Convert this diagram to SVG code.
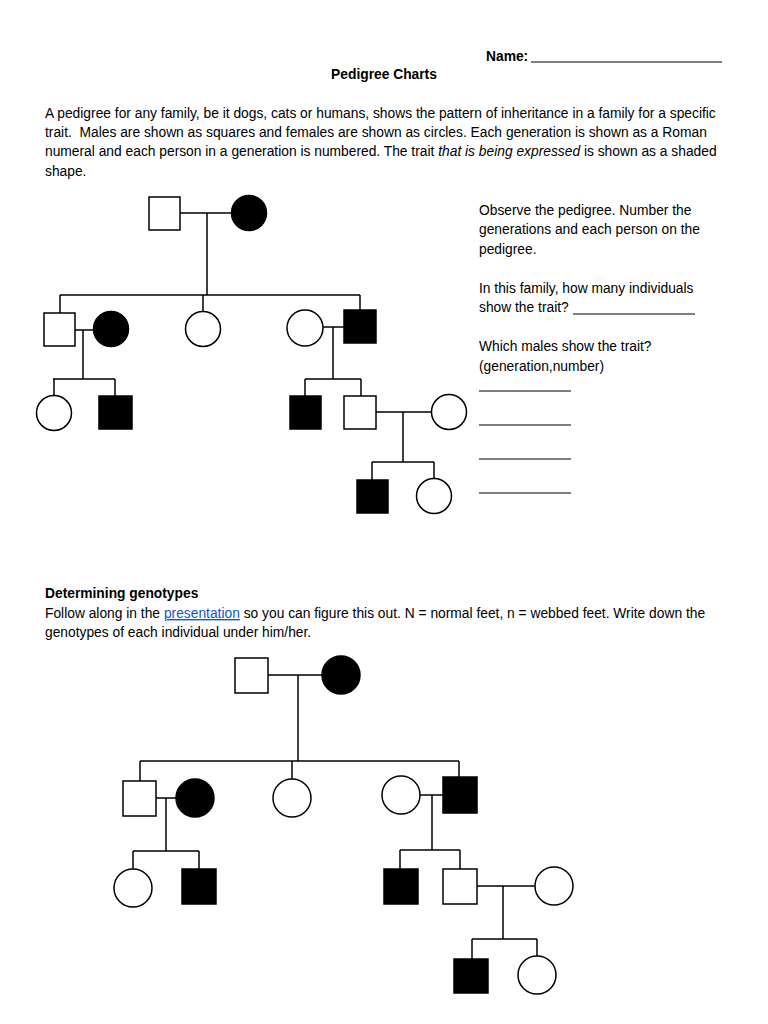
<svg xmlns="http://www.w3.org/2000/svg" width="768" height="1024" viewBox="0 0 768 1024">
<style>
text{font-family:"Liberation Sans",Arial,sans-serif;font-size:13.8px;fill:#000}
.b{font-weight:bold}
.o{fill:#fff;stroke:#000;stroke-width:1.5}
.f{fill:#000;stroke:#000;stroke-width:1.5}
.c line{stroke:#000;stroke-width:1.5}
.u{stroke:#000;stroke-width:1}
</style>
<rect width="768" height="1024" fill="#fff"/>
<g id="texts">
<text x="486" y="61" class="b">Name: </text>
<line class="u" x1="531" y1="62" x2="722" y2="62"/>
<text x="384" y="79" class="b" text-anchor="middle">Pedigree Charts</text>
<text x="45" y="118">A pedigree for any family, be it dogs, cats or humans, shows the pattern of inheritance in a family for a specific</text>
<text x="45" y="137">trait.&#160; Males are shown as squares and females are shown as circles. Each generation is shown as a Roman</text>
<text x="45" y="156">numeral and each person in a generation is numbered. The trait <tspan font-style="italic">that is being expressed</tspan> is shown as a shaded</text>
<text x="45" y="176">shape.</text>
<text x="479" y="215">Observe the pedigree. Number the</text>
<text x="479" y="234">generations and each person on the</text>
<text x="479" y="254">pedigree.</text>
<text x="479" y="293">In this family, how many individuals</text>
<text x="479" y="312">show the trait? </text>
<line class="u" x1="573" y1="314" x2="695" y2="314"/>
<text x="479" y="351">Which males show the trait?</text>
<text x="479" y="371">(generation,number)</text>
<line class="u" x1="479" y1="391" x2="571" y2="391"/>
<line class="u" x1="479" y1="425" x2="571" y2="425"/>
<line class="u" x1="479" y1="459" x2="571" y2="459"/>
<line class="u" x1="479" y1="493" x2="571" y2="493"/>
<text x="45" y="598" class="b">Determining genotypes</text>
<text x="45" y="618">Follow along in the <tspan fill="#1155cc" text-decoration="underline">presentation</tspan> so you can figure this out. N = normal feet, n = webbed feet. Write down the</text>
<text x="45" y="637">genotypes of each individual under him/her.</text>
</g>
<g id="connectors1" class="c">
<line x1="180" y1="213" x2="231" y2="213"/>
<line x1="207" y1="213" x2="207" y2="295"/>
<line x1="60" y1="295" x2="360" y2="295"/>
<line x1="60" y1="295" x2="60" y2="313"/>
<line x1="203" y1="295" x2="203" y2="311"/>
<line x1="360" y1="295" x2="360" y2="310"/>
<line x1="75" y1="330" x2="93" y2="330"/>
<line x1="83" y1="330" x2="83" y2="379"/>
<line x1="53" y1="379" x2="115" y2="379"/>
<line x1="54" y1="379" x2="54" y2="395"/>
<line x1="115" y1="379" x2="115" y2="396"/>
<line x1="323" y1="327" x2="344" y2="327"/>
<line x1="333" y1="327" x2="333" y2="379"/>
<line x1="305" y1="379" x2="361" y2="379"/>
<line x1="305" y1="379" x2="305" y2="396"/>
<line x1="361" y1="379" x2="361" y2="396"/>
<line x1="376" y1="412" x2="432" y2="412"/>
<line x1="403" y1="412" x2="403" y2="462"/>
<line x1="372" y1="462" x2="434" y2="462"/>
<line x1="372" y1="462" x2="372" y2="480"/>
<line x1="434" y1="462" x2="434" y2="478"/>
</g>
<g id="p1-I-1"><rect class="o" x="149" y="197" width="31" height="33"/></g>
<g id="p1-I-2"><circle class="f" cx="249" cy="213" r="17.5"/></g>
<g id="p1-II-1"><rect class="o" x="44" y="313" width="31" height="33"/></g>
<g id="p1-II-2"><circle class="f" cx="111" cy="329" r="17.5"/></g>
<g id="p1-II-3"><circle class="o" cx="203" cy="329" r="17.5"/></g>
<g id="p1-II-4"><circle class="o" cx="305" cy="328" r="18"/></g>
<g id="p1-II-5"><rect class="f" x="344" y="310" width="32" height="33"/></g>
<g id="p1-III-1"><circle class="o" cx="54" cy="413" r="17.5"/></g>
<g id="p1-III-2"><rect class="f" x="99" y="396" width="33" height="33"/></g>
<g id="p1-III-3"><rect class="f" x="290" y="396" width="31" height="33"/></g>
<g id="p1-III-4"><rect class="o" x="344" y="396" width="32" height="33"/></g>
<g id="p1-III-5"><circle class="o" cx="449" cy="412" r="17.5"/></g>
<g id="p1-IV-1"><rect class="f" x="357" y="480" width="31" height="33"/></g>
<g id="p1-IV-2"><circle class="o" cx="434" cy="496" r="17.5"/></g>
<g id="connectors2" class="c">
<line x1="268" y1="675" x2="322" y2="675"/>
<line x1="298" y1="675" x2="298" y2="761"/>
<line x1="140" y1="761" x2="459" y2="761"/>
<line x1="140" y1="761" x2="140" y2="781"/>
<line x1="292" y1="761" x2="292" y2="779"/>
<line x1="459" y1="761" x2="459" y2="777"/>
<line x1="156" y1="798" x2="176" y2="798"/>
<line x1="166" y1="798" x2="166" y2="851"/>
<line x1="133" y1="851" x2="199" y2="851"/>
<line x1="133" y1="851" x2="133" y2="869"/>
<line x1="199" y1="851" x2="199" y2="869"/>
<line x1="420" y1="795" x2="443" y2="795"/>
<line x1="432" y1="795" x2="432" y2="850"/>
<line x1="400" y1="850" x2="460" y2="850"/>
<line x1="400" y1="850" x2="400" y2="869"/>
<line x1="460" y1="850" x2="460" y2="869"/>
<line x1="477" y1="886" x2="535" y2="886"/>
<line x1="503" y1="886" x2="503" y2="939"/>
<line x1="472" y1="939" x2="537" y2="939"/>
<line x1="472" y1="939" x2="472" y2="959"/>
<line x1="537" y1="939" x2="537" y2="956"/>
</g>
<g id="p2-I-1"><rect class="o" x="235" y="658" width="33" height="35"/></g>
<g id="p2-I-2"><circle class="f" cx="341" cy="675" r="19"/></g>
<g id="p2-II-1"><rect class="o" x="123" y="781" width="33" height="35"/></g>
<g id="p2-II-2"><circle class="f" cx="195" cy="798" r="19"/></g>
<g id="p2-II-3"><circle class="o" cx="292" cy="798" r="19"/></g>
<g id="p2-II-4"><circle class="o" cx="401" cy="795" r="19"/></g>
<g id="p2-II-5"><rect class="f" x="443" y="777" width="34" height="36"/></g>
<g id="p2-III-1"><circle class="o" cx="133" cy="888" r="19"/></g>
<g id="p2-III-2"><rect class="f" x="182" y="869" width="34" height="35"/></g>
<g id="p2-III-3"><rect class="f" x="384" y="869" width="34" height="35"/></g>
<g id="p2-III-4"><rect class="o" x="443" y="869" width="34" height="35"/></g>
<g id="p2-III-5"><circle class="o" cx="554" cy="886" r="19"/></g>
<g id="p2-IV-1"><rect class="f" x="454" y="959" width="34" height="34"/></g>
<g id="p2-IV-2"><circle class="o" cx="537" cy="975" r="19"/></g>
</svg>
